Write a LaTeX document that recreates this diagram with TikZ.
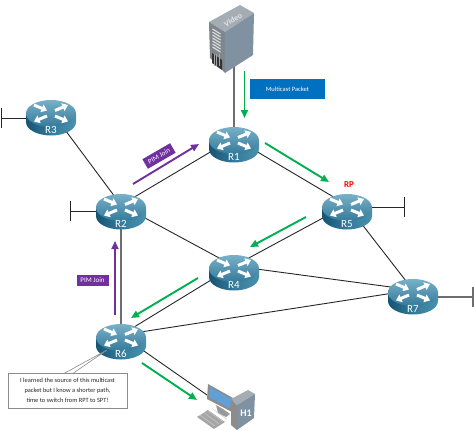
\documentclass[tikz,border=0pt]{standalone}
\usepackage{fontspec}
\setmainfont{Carlito}
\usetikzlibrary{arrows.meta, positioning, backgrounds}
\definecolor{pathgreen}{RGB}{0,176,80}
\definecolor{joinpurple}{RGB}{112,48,160}
\definecolor{packetblue}{RGB}{0,112,192}
\definecolor{routerdark}{RGB}{22,84,114}
\definecolor{routermid}{RGB}{72,146,174}
\definecolor{routerlight}{RGB}{120,176,200}
\definecolor{routerface}{RGB}{52,122,154}
\definecolor{linkgray}{RGB}{110,110,110}
\definecolor{notegray}{RGB}{140,140,140}
\definecolor{casetop}{RGB}{164,172,180}
\definecolor{caseside}{RGB}{128,146,162}
\definecolor{casefront}{RGB}{128,134,142}
\definecolor{screenblue}{RGB}{96,160,214}

% router body, then an empty named node over it for the label
\newcommand{\router}[3]{
  \begin{scope}[shift={(#2)}, x=1pt, y=1pt]
    \path[left color=routerdark, right color=routermid, middle color=routerface]
      (-25,4.5) -- (-25,-4) arc[start angle=180, end angle=360, x radius=25, y radius=13.5]
      -- (25,4.5) -- cycle;
    \path[top color=routerlight, bottom color=routerface]
      (0,4.5) ellipse[x radius=25, y radius=13.5];
    \draw[rarrow] (-17,13) -- (-4,7.5);
    \draw[rarrow] (4,7.5) -- (17,13);
    \draw[rarrow] (4,2) -- (17,-3.5);
    \draw[rarrow] (-4,2) -- (-17,-3.5);
  \end{scope}
  \node[routerlabel] (#1) at (#2) {#3};
}

\begin{document}
\begin{tikzpicture}[>=Stealth, x=1pt, y=-1pt,
      routerlabel/.style={minimum width=50pt, minimum height=40pt, inner sep=0pt,
                     text=white, font=\fontsize{11}{11}\selectfont,
                     text height=30pt, text depth=0pt},
      rarrow/.style={white, line width=3pt, -{Triangle[width=8pt, length=5.5pt]}},
      link/.style={black!85, line width=0.9pt},
      graylink/.style={linkgray, line width=1.5pt},
      greenarr/.style={pathgreen, line width=1.9pt, -{Triangle[width=7pt, length=8pt]}},
      joinarr/.style={joinpurple, line width=1.9pt, -{Triangle[width=7pt, length=8pt]}},
      joinbox/.style={fill=joinpurple, text=white, font=\fontsize{7}{7}\selectfont,
                      minimum width=32pt, minimum height=11pt, inner sep=0pt}]
    \useasboundingbox (0,0) rectangle (474,431);
    % routers
    \router{r1}{234,145}{R1}
    \router{r2}{121,212}{R2}
    \router{r3}{51,118}{R3}
    \router{r4}{234,273}{R4}
    \router{r5}{347,212}{R5}
    \router{r6}{121,342}{R6}
    \router{r7}{413,297}{R7}
    \node[font=\bfseries\fontsize{9}{9}\selectfont, text=red, inner sep=0pt] (rp) at (349,185) {RP};
    % server
    \coordinate (video) at (234,64);
    \fill[casetop] (209,22) -- (240,5) -- (254,13) -- (225,32) -- cycle;
    \fill[caseside] (225,32) -- (254,13) -- (253,55) -- (225,73) -- cycle;
    \fill[casefront] (209,22) -- (225,32) -- (225,73) -- (210,58) -- cycle;
    \fill[black!80] (212,53) -- (222,60) -- (222,70) -- (212,63) -- cycle;
    \foreach \vent in {0,3,...,18}
      \draw[white!85!black, line width=1.2pt] (212.5,29+\vent) -- (220.5,34+\vent);
    \foreach \vent in {214,216.5,219}
      \draw[black!35, line width=0.4pt] (\vent,54) -- (\vent,66);
    \node[rotate=31, text=white!90!black, inner sep=0pt, font=\bfseries\fontsize{8}{8}\selectfont] (videolabel) at (233,20) {Video};
    % host
    \coordinate (h1) at (207,395);
    \fill[black!45] (207,399) -- (208,384) -- (233,398) -- (232,412) -- cycle;
    \fill[screenblue] (209,397) -- (210,387) -- (231,399) -- (230,408.5) -- cycle;
    \fill[black!40] (216,405) -- (223,409) -- (230,414) -- (226,417) -- (218,413) -- cycle;
    \fill[casetop] (231,399) -- (248,390) -- (255,394) -- (237,405) -- cycle;
    \fill[black!45] (231,399) -- (237,405) -- (237,430) -- (231,425) -- cycle;
    \fill[caseside] (237,405) -- (255,394) -- (254,418) -- (237,430) -- cycle;
    \fill[black!35] (197,417) -- (208,410) -- (225,422) -- (214,429) -- cycle;
    \foreach \key in {0,4,8,12}
      \draw[white!80!black, line width=0.5pt] (200+\key,415-0.55*\key) -- (215+\key,426-0.55*\key);
    \node[text=white, inner sep=0pt, font=\bfseries\fontsize{10}{10}\selectfont] (h1label) at (246,413) {H1};
    % stubs
    \coordinate (s3) at (1,118);
    \coordinate (s3t) at (1,108);
    \coordinate (s3b) at (1,128);
    \coordinate (s2) at (70,211);
    \coordinate (s2t) at (70,201);
    \coordinate (s2b) at (70,221);
    \coordinate (s5) at (404,207);
    \coordinate (s5t) at (404,197);
    \coordinate (s5b) at (404,217);
    \coordinate (s7) at (473,297);
    \coordinate (s7t) at (473,287);
    \coordinate (s7b) at (473,307);
    % links
    \begin{scope}[on background layer]
      \foreach \a/\b in {r1/r2, r1/r5, r2/r3, r2/r4, r4/r5, r4/r6, r5/r7, r4/r7, r6/r7}
        \draw[link] ([yshift=7pt]\a.center) -- ([yshift=7pt]\b.center);
      \draw[link] ([yshift=7pt]r6.center) -- (h1);
      \foreach \a/\b in {s3t/s3b, s2t/s2b, s5t/s5b}
        \draw[link] (\a) -- (\b);
      \foreach \a/\b in {r3/s3, r2/s2, r5/s5}
        \draw[link] (\a.center |- \b) -- (\b);
      \draw[graylink] (video) -- (r1.center);
      \draw[graylink] (r2.center) -- (r6.center);
      \draw[graylink] (r7.center) -- (s7);
      \draw[graylink] (s7t) -- (s7b);
    \end{scope}
    % labels on the packets
    \node[fill=packetblue, text=white, font=\fontsize{6.5}{6.5}\selectfont, minimum width=75pt,
          minimum height=20pt, inner sep=0pt] (packet) at (287.5,89) {Multicast Packet};
    \node[joinbox, rotate=30] (join1) at (159,156) {PIM Join};
    \node[joinbox] (join2) at (92.5,280.5) {PIM Join};
    % arrows
    \coordinate (g1a) at (244.5,71);
    \coordinate (g1b) at (244.5,118);
    \coordinate (g2a) at (265,143);
    \coordinate (g2b) at (329,182);
    \coordinate (g3a) at (306,217);
    \coordinate (g3b) at (250,247);
    \coordinate (g4a) at (198,278);
    \coordinate (g4b) at (131,318);
    \coordinate (g5a) at (142,363);
    \coordinate (g5b) at (197,400);
    \coordinate (j1a) at (133,184);
    \coordinate (j1b) at (199,144);
    \coordinate (j2a) at (115,315);
    \coordinate (j2b) at (115,241);
    \foreach \a/\b in {g1a/g1b, g2a/g2b, g3a/g3b, g4a/g4b, g5a/g5b}
      \draw[greenarr] (\a) -- (\b);
    \draw[joinarr] (j1a) -- (j1b);
    \draw[joinarr] (j2a) -- (j2b);
    % note
    \coordinate (tip) at (107,350);
    \coordinate (tailleft) at (63,374);
    \coordinate (tailright) at (72,374);
    \draw[notegray, fill=white, line width=0.6pt] (tailleft) -- (tip) -- (tailright);
    \node[draw=notegray, fill=white, line width=0.6pt, minimum width=119pt, minimum height=35pt,
          inner sep=0pt, align=center, font=\fontsize{6.4}{10}\selectfont, text=black!85] (note) at (67.5,390.5)
          {I learned the source of this multicast\\packet but I know a shorter path,\\time to switch from RPT to SPT!};
  \end{tikzpicture}
\end{document}
